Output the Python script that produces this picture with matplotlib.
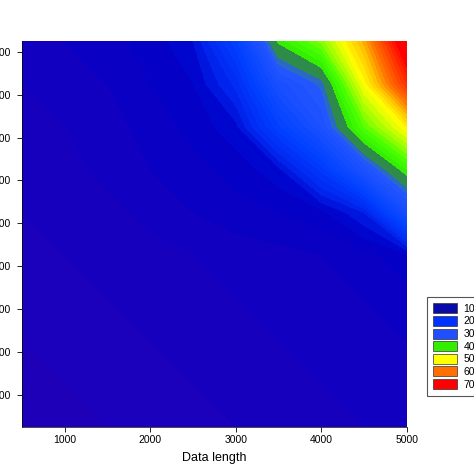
import numpy as np
import matplotlib
matplotlib.use('Agg')
import matplotlib.pyplot as plt
from matplotlib.colors import LinearSegmentedColormap
from matplotlib.patches import Patch

plt.rcParams['font.family'] = ['Liberation Sans', 'DejaVu Sans']

# grid
data_length = [500, 1000, 1500, 2000, 2500, 3000, 3500, 4000, 4500, 5000]
y_vals = [25, 125, 225, 325, 425, 525, 625, 725, 825, 925]
y_ticks = [100, 200, 300, 400, 500, 600, 700, 800, 900]
x_ticks = [1000, 2000, 3000, 4000, 5000]

# rows from bottom to top
z_row0 = [3.5, 4.0, 4.5, 5.0, 5.5, 6.0, 6.5, 7.0, 7.5, 8.0]
z_row1 = [4.0, 4.5, 5.0, 5.5, 6.0, 6.5, 7.0, 7.5, 8.0, 8.5]
z_row2 = [4.5, 5.0, 5.5, 6.0, 6.5, 7.0, 7.5, 8.0, 8.5, 9.0]
z_row3 = [5.0, 5.5, 6.0, 6.5, 7.0, 7.5, 8.0, 8.5, 9.0, 10.0]
z_row4 = [5.5, 6.0, 6.5, 7.0, 7.5, 8.0, 8.5, 9.0, 10.0, 11.5]
z_row5 = [6.0, 6.5, 7.0, 8.0, 9.0, 10.0, 10.5, 11.5, 15.0, 28.0]
z_row6 = [6.5, 7.0, 8.0, 9.0, 10.0, 11.0, 13.0, 20.0, 30.0, 39.0]
z_row7 = [7.0, 7.5, 8.5, 9.5, 11.0, 13.0, 22.0, 30.0, 42.0, 51.0]
z_row8 = [7.5, 8.0, 9.0, 10.5, 12.0, 17.0, 29.0, 33.5, 50.0, 66.0]
z_row9 = [8.0, 9.0, 10.0, 11.0, 13.5, 22.0, 38.0, 44.0, 56.0, 74.0]

Z = np.array([z_row0, z_row1, z_row2, z_row3, z_row4,
              z_row5, z_row6, z_row7, z_row8, z_row9])

legend_labels = ['100', '200', '300', '400', '500', '600', '700']
legend_colors = ['#0a0aa8', '#0033ff', '#1f4fff', '#33ee00', '#ffff00', '#ff7000', '#ff0000']

# colour ramp
vmax = 75.0
nodes = [(0, '#2a00b4'), (8, '#1200c0'), (12, '#0000c8'), (16, '#0028f0'),
         (22, '#0040ff'), (33.5, '#2858ff'), (34.5, '#2e8b4a'), (37.5, '#2e8b4a'),
         (38, '#33ee00'), (41, '#44ff00'), (50, '#ffff00'), (55, '#ffc000'),
         (60, '#ff7000'), (70, '#ff0000'), (75, '#ff0000')]
cmap = LinearSegmentedColormap.from_list('ramp', [(v / vmax, c) for v, c in nodes])

fig = plt.figure(figsize=(4.74, 4.74), dpi=100)
ax = fig.add_axes([22 / 474, 47 / 474, 385 / 474, 386 / 474])

levels = np.arange(0, 76, 1.5)
ax.contourf(data_length, y_vals, Z, levels=levels, cmap=cmap, vmin=0, vmax=vmax)

ax.set_xlim(500, 5000)
ax.set_ylim(25, 925)
ax.set_xticks(x_ticks)
ax.set_yticks(y_ticks)
ax.tick_params(labelsize=7.5, length=3.5, width=0.6, pad=2.5)
ax.tick_params(axis='y', pad=4.5)
ax.set_xlabel('Data length', fontsize=9, labelpad=5)
for s in ['top', 'right']:
    ax.spines[s].set_visible(False)
for s in ['left', 'bottom']:
    ax.spines[s].set_linewidth(0.5)

handles = [Patch(facecolor=c, edgecolor='#333333', linewidth=0.5) for c in legend_colors]
leg = fig.legend(handles, legend_labels, loc='upper left',
                 bbox_to_anchor=(427 / 474, 177 / 474), fontsize=7.5,
                 handlelength=2.3, handleheight=1.1, labelspacing=0.2,
                 handletextpad=0.6, borderpad=0.6, borderaxespad=0,
                 fancybox=False, edgecolor='#555555', framealpha=1)
leg.get_frame().set_linewidth(0.8)

fig.savefig('out.png', dpi=100)
